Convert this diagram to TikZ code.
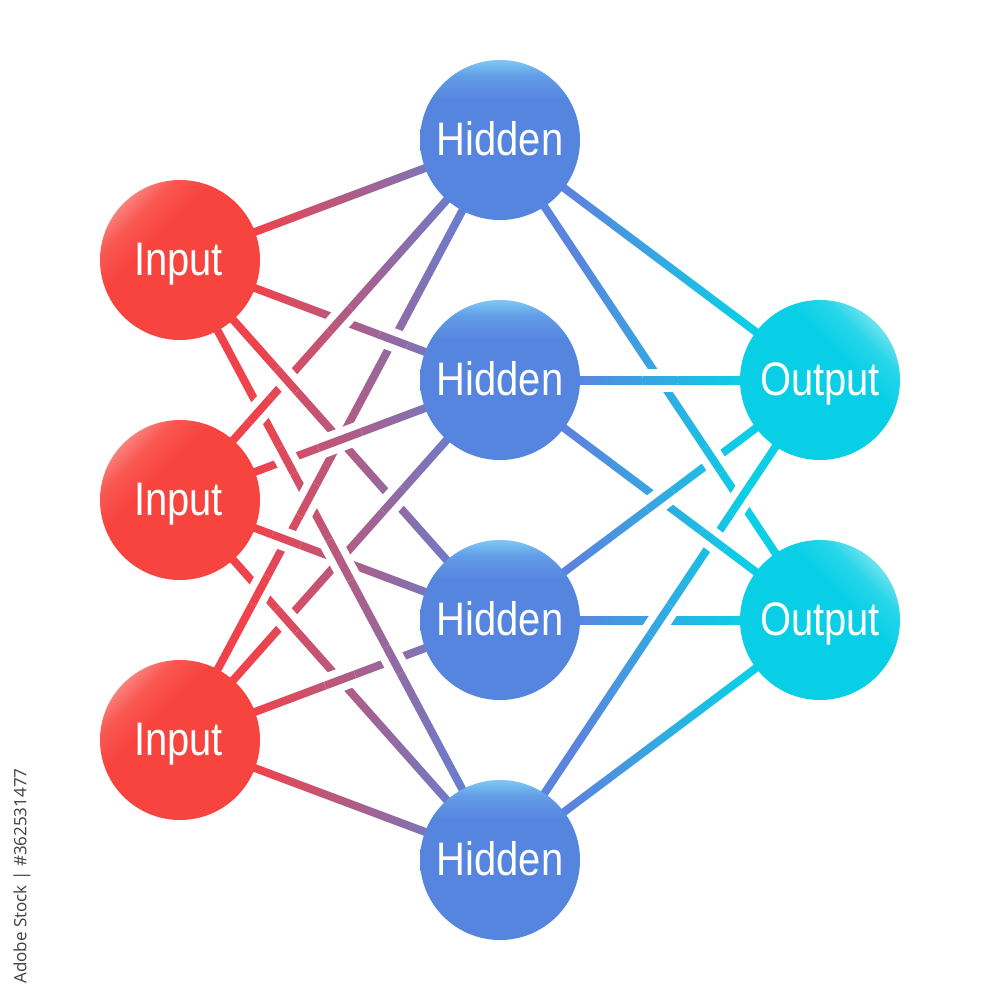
\documentclass[tikz,border=0pt]{standalone}
\usepackage{fontspec}
\setmainfont[FakeStretch=0.85]{Liberation Sans}
\newfontfamily\stockfont{Open Sans}
\usetikzlibrary{calc,backgrounds}
\definecolor{inred}{HTML}{F8443E}
\definecolor{hidblue}{HTML}{5585DF}
\definecolor{outcyan}{HTML}{08CFE5}
\definecolor{inwire}{HTML}{F0424A}
\definecolor{midwire}{HTML}{A8608C}
\definecolor{hidwire}{HTML}{5A84DE}
\definecolor{outwire}{HTML}{0ACFE6}
\definecolor{hidtop}{HTML}{7CC8F4}
\pgfdeclareverticalshading{inshade}{100bp}{color(0bp)=(inred); color(60bp)=(inred); color(69bp)=(inred!90!white); color(75bp)=(inred!68!white); color(100bp)=(inred!68!white)}
\pgfdeclareverticalshading{hidshade}{100bp}{color(0bp)=(hidblue); color(63bp)=(hidblue); color(70bp)=(hidblue!65!hidtop); color(75bp)=(hidtop); color(100bp)=(hidtop)}
\pgfdeclareverticalshading{outshade}{100bp}{color(0bp)=(outcyan); color(60bp)=(outcyan); color(69bp)=(outcyan!87!white); color(75bp)=(outcyan!60!white); color(100bp)=(outcyan!60!white)}
\pgfdeclarehorizontalshading{leftwireshade}{100bp}{color(0bp)=(inwire); color(37bp)=(inwire); color(53bp)=(midwire); color(72bp)=(hidwire); color(100bp)=(hidwire)}
\pgfdeclarehorizontalshading{rightwireshade}{100bp}{color(0bp)=(hidwire); color(37bp)=(hidwire); color(50bp)=(hidwire!50!outwire); color(63bp)=(outwire); color(100bp)=(outwire)}
\tikzset{
  neuron/.style={circle,minimum size=160pt,inner sep=0pt,text=white,font=\fontsize{47pt}{47pt}\selectfont,text height=34pt,text depth=3pt},
  inneuron/.style={neuron,shading=inshade,shading angle=45},
  hidneuron/.style={neuron,shading=hidshade},
  outneuron/.style={neuron,shading=outshade,shading angle=-45},
  leftwire/.style={shading=leftwireshade},
  rightwire/.style={shading=rightwireshade},
  stocktext/.style={rotate=90,text=black!75,font=\stockfont\fontsize{17pt}{17pt}\selectfont}
}
\newcommand{\wire}[3]{%
  \path[#3] ($(#1)!4pt!90:(#2)$) -- ($(#2)!4pt!-90:(#1)$) -- ($(#2)!4pt!90:(#1)$) -- ($(#1)!4pt!-90:(#2)$) -- cycle;}
% over wire #1-#2 (style #3) passes above the wire #4-#5; #6 = radius of the cut
\newcommand{\crossover}[6]{%
  \begin{scope}
    \coordinate (xp) at (intersection cs:first line={(#1.center)--(#2.center)},second line={(#4.center)--(#5.center)});
    \clip (xp) circle (#6pt);
    \draw[white,line width=23pt] (#1.center) -- (#2.center);
    \wire{#1}{#2}{#3}
  \end{scope}}
\begin{document}
\begin{tikzpicture}[x=1pt,y=-1pt]
\useasboundingbox (0,0) rectangle (1000,1000);
\node[inneuron] (i1) at (180,260) {Input\kern3pt};
\node[inneuron] (i2) at (180,500) {Input\kern3pt};
\node[inneuron] (i3) at (180,740) {Input\kern3pt};
\node[hidneuron] (h1) at (500,140) {Hidden};
\node[hidneuron] (h2) at (500,380) {Hidden};
\node[hidneuron] (h3) at (500,620) {Hidden};
\node[hidneuron] (h4) at (500,860) {Hidden};
\node[outneuron] (o1) at (820,380) {Output};
\node[outneuron] (o2) at (820,620) {Output};
\node[stocktext] (stock) at (22,876) {Adobe Stock | \#362531477};
\begin{scope}[on background layer]
\fill[white] (0,0) rectangle (1000,1000);
\foreach \a in {i1,i2,i3}{\foreach \b in {h1,h2,h3,h4}{\wire{\a}{\b}{leftwire}}}
\foreach \a in {h1,h2,h3,h4}{\foreach \b in {o1,o2}{\wire{\a}{\b}{rightwire}}}
\crossover{i2}{h1}{leftwire}{i1}{h2}{16}
\crossover{i1}{h2}{leftwire}{i3}{h1}{15}
\crossover{i1}{h3}{leftwire}{i2}{h1}{15}
\crossover{i2}{h2}{leftwire}{i1}{h3}{23}
\crossover{i3}{h2}{leftwire}{i1}{h3}{15}
\crossover{i2}{h1}{leftwire}{i1}{h4}{16}
\crossover{i1}{h4}{leftwire}{i2}{h2}{15}
\crossover{i1}{h4}{leftwire}{i2}{h3}{23}
\crossover{i3}{h1}{leftwire}{i1}{h4}{18}
\crossover{i1}{h4}{leftwire}{i3}{h3}{15}
\crossover{i2}{h3}{leftwire}{i3}{h1}{15}
\crossover{i3}{h1}{leftwire}{i2}{h4}{16}
\crossover{i2}{h4}{leftwire}{i3}{h2}{15}
\crossover{i3}{h3}{leftwire}{i2}{h4}{16}
\crossover{h2}{o1}{rightwire}{h1}{o2}{18}
\crossover{h1}{o2}{rightwire}{h3}{o1}{15}
\crossover{h4}{o1}{rightwire}{h1}{o2}{16}
\crossover{h3}{o1}{rightwire}{h2}{o2}{16}
\crossover{h2}{o2}{rightwire}{h4}{o1}{15}
\crossover{h4}{o1}{rightwire}{h3}{o2}{18}
\end{scope}
\end{tikzpicture}
\end{document}
